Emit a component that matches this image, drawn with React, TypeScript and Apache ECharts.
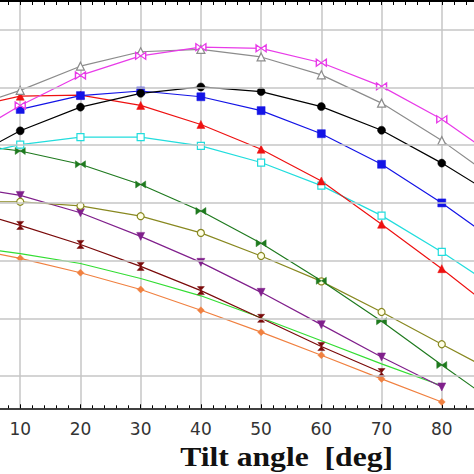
import React, { useEffect, useRef } from "react";
import * as echarts from "echarts";

// Tilt angles (deg) at which every curve is sampled
const ANGLES = [0, 10, 20, 30, 40, 50, 60, 70, 80, 90];
// Horizontal reference lines of the plot
const GRID_VALUES = [100, 200, 300, 400, 500, 600, 700];
const Y_MIN = 44;
const Y_MAX = 750;

// Curve values, one per angle (null = not computed)
const MAGENTA = [507, 569, 621, 655, 670, 668, 643, 602, 545, 472];
const GRAY = [560, 595, 637, 662, 666, 653, 622, 573, 508, 433];
const RED = [562, 585, 587, 569, 536, 493, 438, 363, 286, 204];
const BLUE = [null, 562, 586, 594, 584, 560, 520, 467, 400, 325];
const BLACK = [469, 525, 566, 590, 601, 593, 567, 526, 469, 405];
const CYAN = [478, 501, 514, 514, 499, 470, 430, 378, 315, 246];
const DARK_GREEN = [503, 490, 467, 432, 386, 330, 265, 195, 119, 45];
const PURPLE = [430, 413, 383, 342, 297, 245, 189, 133, 81, null];
const OLIVE = [402, 402, 395, 377, 348, 308, 264, 211, 155, 100];
const DARK_RED = [392, 361, 328, 290, 248, 200, 151, 106, null, null];
const LIGHT_GREEN = [326, 312, 295, 269, 239, 201, 161, 121, 83, null];
const ORANGE = [324, 304, 279, 250, 214, 176, 136, 95, 55, null];

const X_TITLE = "Tilt angle  [deg]";

const BOWTIE = "path://M0,0L10,5L0,10ZM20,0L10,5L20,10Z";
const HOURGLASS = "path://M0,0L10,0L5,10ZM5,10L10,20L0,20Z";

// The plotting surface is wider than the visible frame: 0° and 90° lie just outside it
const VIEW = 474;
const PLOT_WIDTH = 541.5;
const PLOT_SHIFT = -39.6;

type Curve = {
  name: string;
  values: (number | null)[];
  color: string;
  symbol: string;
  size: number | number[];
  hollow?: boolean;
  rotate?: number;
  fill?: string;
};

const CURVES: Curve[] = [
  { name: "A", values: LIGHT_GREEN, color: "#33dd33", symbol: "none", size: 0 },
  { name: "B", values: ORANGE, color: "#f08040", symbol: "diamond", size: 7 },
  { name: "C", values: DARK_RED, color: "#7a0a0a", symbol: HOURGLASS, size: [7, 8] },
  { name: "D", values: PURPLE, color: "#80208c", symbol: "triangle", size: 8, rotate: 180 },
  { name: "E", values: OLIVE, color: "#888820", symbol: "circle", size: 7, hollow: true, fill: "#ffffe6" },
  { name: "F", values: DARK_GREEN, color: "#1f7a1f", symbol: BOWTIE, size: [10, 7] },
  { name: "G", values: CYAN, color: "#22dddd", symbol: "rect", size: 7, hollow: true, fill: "#ffffff" },
  { name: "H", values: RED, color: "#ee1111", symbol: "triangle", size: 8 },
  { name: "I", values: BLUE, color: "#1414e6", symbol: "rect", size: 8 },
  { name: "J", values: BLACK, color: "#000000", symbol: "circle", size: 8 },
  { name: "K", values: GRAY, color: "#8c8c8c", symbol: "triangle", size: 8, hollow: true, fill: "#ffffff" },
  { name: "L", values: MAGENTA, color: "#e83be8", symbol: BOWTIE, size: [10, 7], hollow: true, fill: "#ffffff" },
];

function toPairs(values: (number | null)[]) {
  const out: number[][] = [];
  values.forEach((v, i) => {
    if (v !== null) out.push([ANGLES[i], v]);
  });
  return out;
}

export default function App() {
  const ref = useRef<HTMLDivElement>(null);

  useEffect(() => {
    if (!ref.current) return;
    const chart = echarts.init(ref.current, undefined, { renderer: "svg" });

    const lineSeries = CURVES.map((c) => ({
      type: "line",
      name: c.name,
      data: toPairs(c.values),
      z: 3,
      showSymbol: c.symbol !== "none",
      symbol: c.symbol === "none" ? "circle" : c.symbol,
      symbolSize: c.size,
      symbolRotate: c.rotate ?? 0,
      lineStyle: { color: c.color, width: 1.2 },
      itemStyle: c.hollow
        ? { color: c.fill, borderColor: c.color, borderWidth: 1.2 }
        : { color: c.color, borderColor: c.color, borderWidth: 0.5 },
      emphasis: { disabled: true },
    }));

    const gridSeries = {
      type: "line",
      name: "grid",
      data: [],
      z: 1,
      silent: true,
      markLine: {
        silent: true,
        symbol: "none",
        label: { show: false },
        lineStyle: { color: "#c6c6c6", width: 1.5, type: "solid" },
        data: GRID_VALUES.map((v) => ({ yAxis: v })),
      },
    };

    chart.setOption({
      animation: false,
      backgroundColor: "#ffffff",
      grid: { left: 0, right: 0, top: 1, bottom: 65.7 },
      xAxis: [
        {
          type: "value",
          position: "bottom",
          min: 0,
          max: 90,
          interval: 10,
          axisLine: { show: true, lineStyle: { color: "#000", width: 1.5 } },
          axisTick: { show: true, inside: true, length: 4, lineStyle: { color: "#000" } },
          minorTick: { show: true, splitNumber: 5, length: 3, lineStyle: { color: "#000" } },
          axisLabel: {
            show: true,
            margin: 12,
            fontFamily: "DejaVu Sans",
            fontSize: 17,
            color: "#333",
            showMinLabel: false,
            showMaxLabel: false,
          },
          splitLine: { show: true, lineStyle: { color: "#c6c6c6", width: 1.5 } },
        },
        {
          type: "value",
          position: "top",
          min: 0,
          max: 90,
          interval: 10,
          axisLine: { show: true, lineStyle: { color: "#000", width: 2 } },
          axisTick: { show: true, inside: true, length: 4, lineStyle: { color: "#000" } },
          minorTick: { show: true, splitNumber: 5, length: 4, lineStyle: { color: "#000" } },
          axisLabel: { show: false },
          splitLine: { show: false },
        },
      ],
      yAxis: {
        type: "value",
        min: Y_MIN,
        max: Y_MAX,
        show: true,
        axisLine: { show: false },
        axisTick: { show: false },
        axisLabel: { show: false },
        splitLine: { show: false },
      },
      series: [gridSeries, ...lineSeries],
      graphic: [
        {
          type: "text",
          x: 287 - PLOT_SHIFT,
          y: 456,
          scaleX: 1.13,
          silent: true,
          style: {
            text: X_TITLE,
            x: 0,
            y: 0,
            textAlign: "center",
            textVerticalAlign: "middle",
            font: 'bold 28px "Liberation Serif"',
            fill: "#111",
          },
        },
      ],
    });

    return () => chart.dispose();
  }, []);

  return (
    <div
      style={{
        position: "fixed",
        left: 0,
        top: 0,
        width: VIEW,
        height: VIEW,
        overflow: "hidden",
        background: "#fff",
      }}
    >
      <div
        ref={ref}
        style={{ position: "absolute", left: PLOT_SHIFT, top: 0, width: PLOT_WIDTH, height: VIEW }}
      />
    </div>
  );
}
